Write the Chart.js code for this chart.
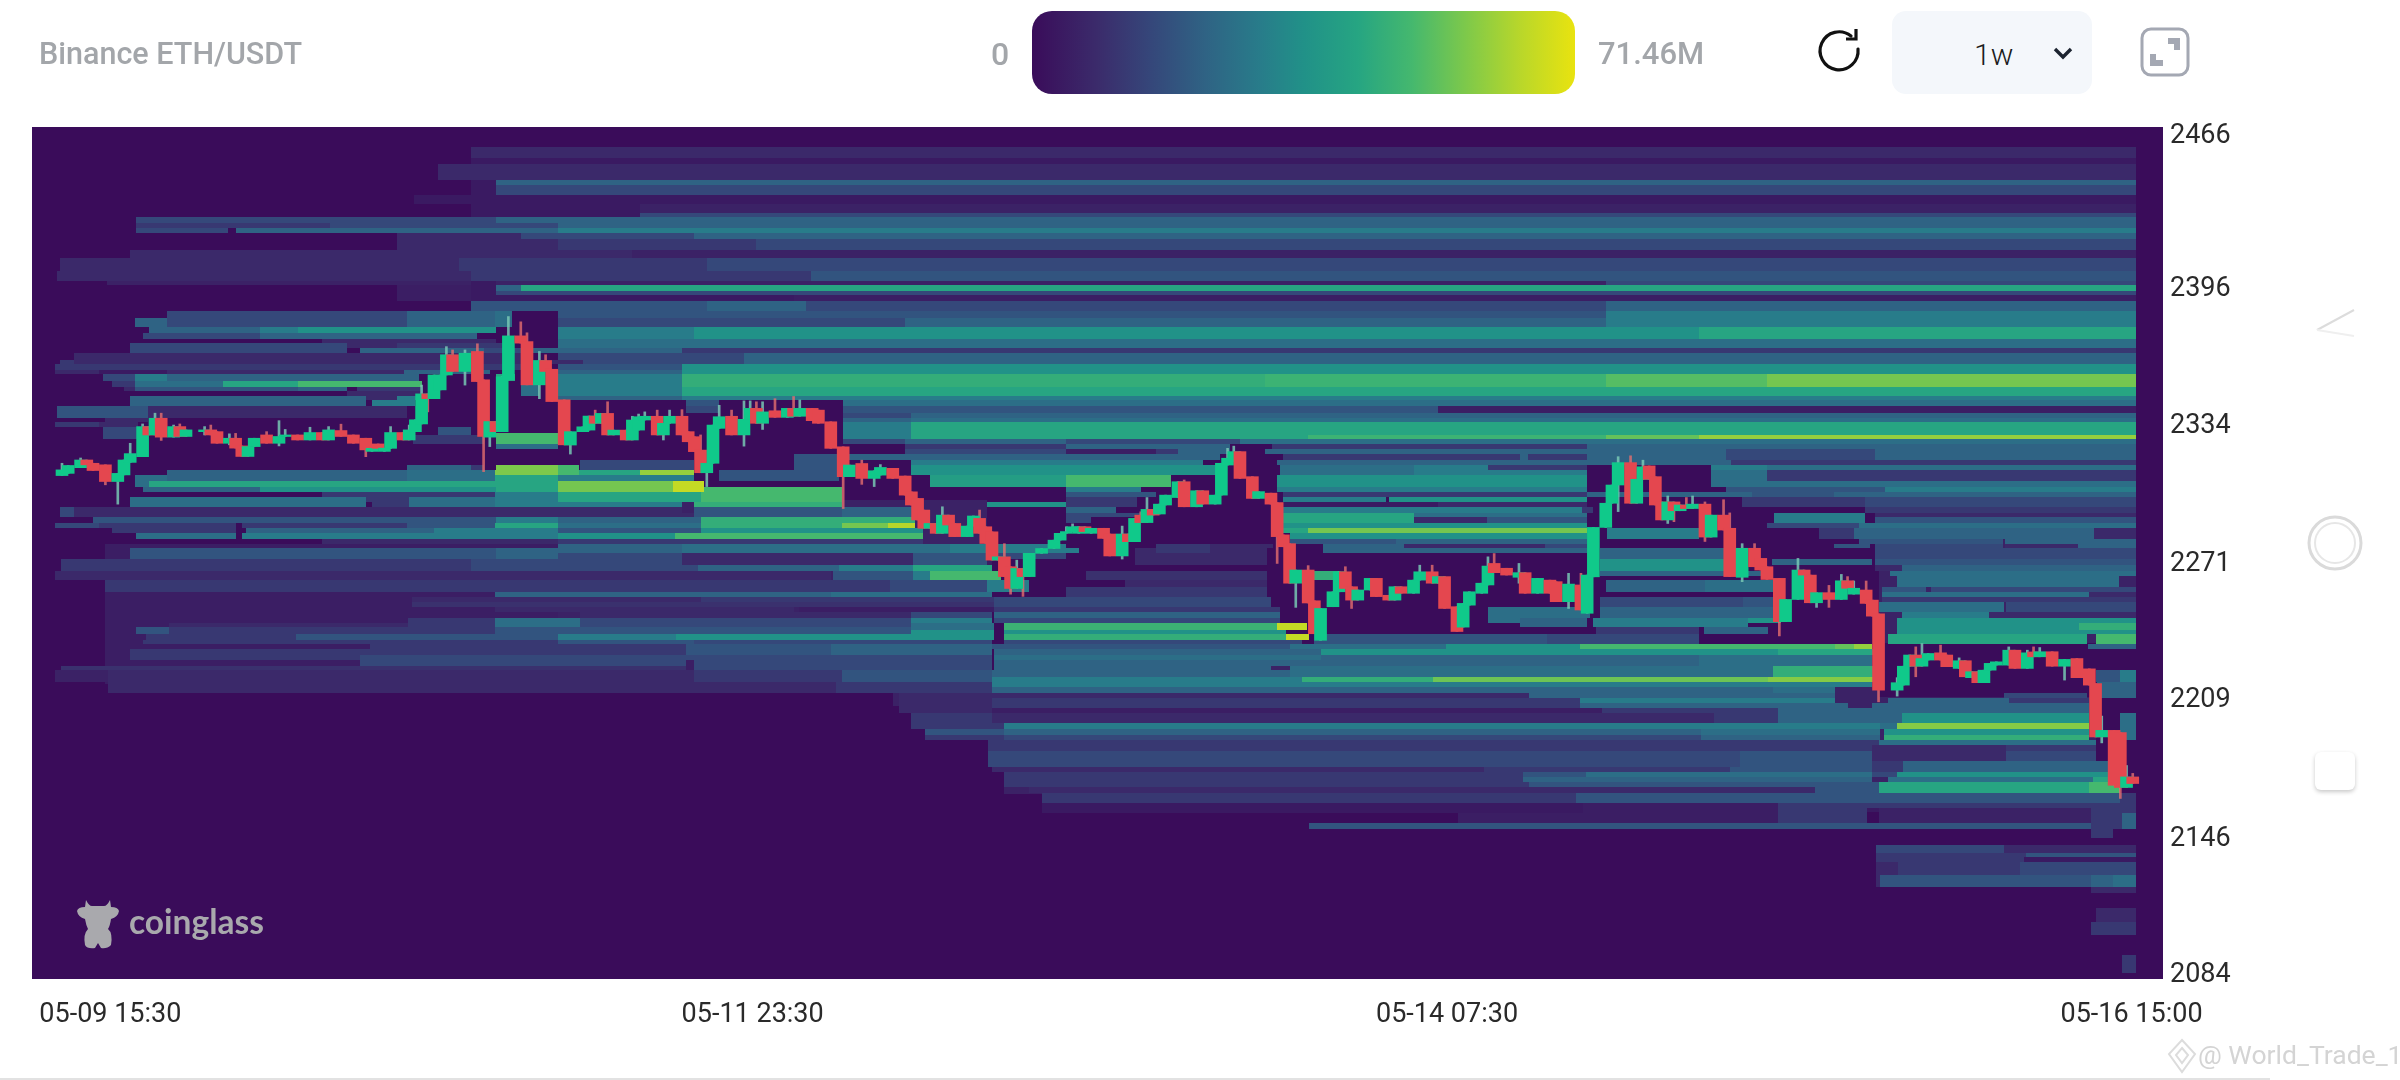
<!DOCTYPE html>
<html><head><meta charset="utf-8">
<style>
html,body{margin:0;padding:0;background:#fff;width:2400px;height:1080px;overflow:hidden;font-family:Roboto,sans-serif}
#wrap{position:relative;width:2400px;height:1080px}
canvas{position:absolute;left:0;top:0}
.t{position:absolute;white-space:nowrap;line-height:1}
svg{position:absolute;overflow:visible}
</style>
<script src="https://cdn.jsdelivr.net/npm/chart.js@4"></script>
</head><body><div id="wrap">
<canvas id="c" width="2400" height="1080"></canvas>
<div class="t" style="left:39px;top:39px;font-size:30.5px;font-weight:500;color:#a3a6aa">Binance ETH/USDT</div>
<div class="t" style="left:991px;top:38px;font-size:32px;font-weight:500;color:#a3a6aa">0</div>
<div id="bar" style="position:absolute;left:1032px;top:11px;width:543px;height:83px;border-radius:20px"></div>
<div class="t" style="left:1598px;top:38px;font-size:31px;font-weight:500;color:#a3a6aa">71.46M</div>
<svg style="left:1815px;top:28px" width="50" height="50" viewBox="0 0 50 50"><path d="M36 8 A19 19 0 1 0 43 21" fill="none" stroke="#111" stroke-width="3.2" stroke-linecap="round"/><path d="M35 1 V11 H25" transform="translate(6 0)" fill="none" stroke="#111" stroke-width="3.2"/></svg>
<div style="position:absolute;left:1892px;top:11px;width:200px;height:83px;border-radius:14px;background:#f4f7fb"></div>
<div class="t" style="left:1974px;top:40px;font-size:30px;font-weight:300;color:#1c1c1c">1w</div>
<svg style="left:2052px;top:46px" width="22" height="16" viewBox="0 0 22 16"><path d="M3 3 L11 11 L19 3" fill="none" stroke="#1c2430" stroke-width="3.4"/></svg>
<svg style="left:2140px;top:27px" width="52" height="52" viewBox="0 0 52 52"><rect x="2" y="2" width="46" height="46" rx="9" fill="#fff" stroke="#a4a8b3" stroke-width="3"/><path d="M28 11 H40 V23 H34 V17 H28Z M10 27 H16 V33 H23 V39 H10Z" fill="#a4a8b3"/></svg>
<svg style="left:77px;top:899px" width="42" height="50" viewBox="0 0 42 50"><path d="M9 1 Q12 7 15 7 H27 Q30 7 33 1 L34 8 Q41 8 42 12 Q41 18 34 20 Q33 27 31 30 Q36 34 34 46 Q30 50 24 49 L21 44 L18 49 Q10 50 8 46 Q6 35 11 30 Q9 26 8 20 Q1 18 0 12 Q1 8 8 8Z" fill="#a9a9ad"/></svg>
<div class="t" style="left:129px;top:905px;font-size:33.5px;font-weight:700;font-family:Lato,sans-serif;color:#a9a9ad">coinglass</div>
<svg style="left:2310px;top:300px" width="60" height="50"><path d="M7 30 L44 10" stroke="#dcdcdc" stroke-width="2" fill="none"/><path d="M7 30 L44 36" stroke="#efefef" stroke-width="2" fill="none"/></svg>
<svg style="left:2300px;top:510px" width="70" height="70"><circle cx="35" cy="33" r="26" fill="#fff" stroke="#dadada" stroke-width="3"/><circle cx="35" cy="33" r="20" fill="none" stroke="#e6e6e6" stroke-width="2"/></svg>
<div style="position:absolute;left:2315px;top:752px;width:40px;height:38px;border-radius:6px;background:#fff;box-shadow:0 2px 4px #c9c9c9"></div>
<svg style="left:2167px;top:1038px" width="30" height="36" viewBox="0 0 30 36"><path d="M15 2 L28 16 L15 34 L2 16Z M15 10 L21 17 L15 25 L9 17Z" fill="none" stroke="#dcdcdc" stroke-width="2"/></svg>
<div class="t" style="left:2198px;top:1042px;font-size:26.5px;color:#d4d4d4">@ World_Trade_1</div>
<div style="position:absolute;left:0;top:1078px;width:2270px;height:2px;background:#e2e2e2"></div>
</div>
<script>
const yTickValues=[2466,2396,2334,2271,2209,2146,2084];
const xTickHours=[3.9,55.7,111.7,166.9];
const xTickLabels=['05-09 15:30','05-11 23:30','05-14 07:30','05-16 15:00'];
const scaleMaxM=71.46;
const upColor='#10c98a', downColor='#e4474f';
// hour, open, close, [high], [low]  (null = no visible wick)
const candleRows=[
[0,2310,2312.6,2315.6],[.5,2311,2314.6],[1.5,2313.6,2317.1,2318],[2,2317.1,2314.9],[2.5,2315.6,2312.3],[3.5,2314.9,2307.3,null,2305.8],[4.5,2307.3,2311,null,2297],[5,2310.3,2317.1],[5.5,2316,2320,2324.7],[6.5,2318.6,2332.3,2333.5],[7,2332.3,2328.5],[7.5,2328.5,2336.1,2338.4],[8,2336.1,2327.5,2338.4,2326],[9,2327.5,2332.3,2333],[9.5,2332.3,2327.8,2333.5],[10,2327.8,2330.8],[11.5,2330,2330.8,2332.3,2328.5],[12,2330.8,2328.5,2333],[12.5,2330,2324.7],[13.5,2324.7,2327,2329,2324],[14,2327,2322.5,2329.2],[14.5,2323.5,2318.7],[15,2318.7,2323.2],[15.5,2323.2,2327],[16.5,2328.5,2324.7,2330],[17.5,2324.7,2327.8,2335,2323.5],[18,2327.8,2328.5,2331],[19,2328.5,2326.2],[20,2326.2,2329.6,2332],[21,2329.6,2326.2],[21.5,2326.2,2330.8,2332.3],[22.5,2330.5,2327.8,2333.4],[23.5,2328.5,2324.7],[24.5,2327,2321.7,null,2318.6],[25,2321,2322.4],[25.5,2324.4,2322.4],[26,2321,2322.5],[26.5,2322.4,2329.6,2332.3],[27.5,2329.6,2326.2],[28,2326.2,2330.8,2333],[28.5,2330,2335.4],[29,2333.5,2347.2,2351.2],[29.5,2347.2,2345,null,2339],[30,2345,2355.8],[30.5,2349,2355.8],[31,2355.8,2365,2368.7],[31.5,2365,2357.4,2367.2],[32.5,2357.4,2365.7,2367.2,2351.2],[33.5,2366.5,2352.8,2370],[34,2353.6,2327.8,null,2311.8],[34.5,2327.5,2334.6,null,2323.2],[35,2334.6,2330],[35.5,2330,2355],[36,2353.6,2373.6,2382.4],[37,2373.6,2370.3,2380],[37.5,2371,2351.3,2375],[38.5,2351.3,2362.4,2366.5,2345],[39,2362.4,2357.4,2365],[39.5,2358.4,2343.7],[40.5,2344.5,2324],
[41,2323.9,2330,null,2319.8],[42,2330,2332.2],[42.5,2330.7,2337.1],[43,2337.1,2333.8,2339.8],[43.5,2333.8,2338.3],[44,2338.3,2328.5,2343.6],[44.5,2328.5,2330.7],[45.5,2330.7,2326.2],[46,2326.2,2335.3,2337],[46.5,2330.7,2336.8,2338],[47,2335.3,2337,2339],[48,2337,2328.5,2339.8],[48.5,2328.5,2333.8,null,2326.2],[49,2333.8,2337,2339.8],[50,2337,2328.5,2340],[50.5,2330,2325.4],[51,2327.7,2320.9],[51.5,2321.6,2311.3,2328.5],[52,2311.3,2315.6,null,2305],[52.5,2315.6,2333],[53,2331.5,2336.8,2342],[54,2337,2328.5,2339.8],[55,2328.5,2335.6,2344,2323.4],[55.5,2335.6,2340.6,2344],[56,2340.6,2333.8,2343.6],[56.5,2333.8,2339,2343.6,2331],[57.5,2339.5,2336.5,2345],[58.5,2336.5,2340.6],[59,2340.6,2337,2346],[59.5,2337,2340.6,2344.4],[60.5,2340.6,2335],[61,2339.8,2333.8],[62,2334.5,2322.4],[63,2323.1,2309.5,null,2295],[63.5,2309.5,2314.8],[64.5,2315.5,2308.7,2317,2306],[65.5,2308.7,2312.2,null,2305],[66,2310.2,2313.7,2315],[67,2313.3,2308.7],[68,2309.8,2301.1],[68.5,2302.6,2296.6],[69,2299.6,2289.8],[69.5,2294.3,2286],[70,2286,2288.2],[70.5,2288.2,2283.7],[71,2283.7,2292,2295.8],[71.5,2292,2287.5],[72,2288.2,2282.2],[73,2282.2,2287],[73.5,2287,2291.6],[74,2290.5,2283.7,2294.3],[74.5,2286.7,2279.1],[75,2284.4,2271.5],[75.5,2271.5,2273],[76,2273,2264,2279],[76.5,2268.5,2258.6,null,2256],[77,2258.6,2267.7,2271.5],[77.5,2267.7,2264,null,2255],[78,2264,2274.6],[79,2274.6,2276.8],[80,2276.8,2280.6],[80.5,2280.6,2283.7],[81,2283.7,2284.5,2286.7],[81.5,2284.5,2286.7,2288],[82,2283.7,2286.7],
[82.5,2286.7,2284.5],[83,2283.7,2286],[84,2286,2281.4],[84.5,2283.4,2273.4],[85.5,2273.4,2283.4,2287,2272],[86,2283.4,2279.9],[86.5,2279.9,2290.5],[87,2292,2288.6,2293.5],[87.5,2288.6,2294.6,2300],[88,2294.6,2292],[88.5,2292.5,2297],[89,2296.6,2301.1],[90,2300,2307.2],[90.5,2307.2,2295.8,2308],[91.5,2295.8,2303.1],[92,2303.1,2297],[93,2297,2301.1],[93.5,2301.1,2315.6],[94,2314.8,2317.9,2322.4],[94.5,2316.3,2320.9,2323.4],[95,2320.9,2308.7],[96,2309.5,2299.6],[96.5,2299.6,2302.7],[97.5,2302,2297],[98,2297.7,2282.2,null,2270],[98.5,2283,2277.6],[99,2279,2261],[99.5,2261,2267,null,2250],[100.5,2267,2252,2269],[101,2253,2238],[101.5,2235,2249.5],[102.5,2250.3,2257.1],[103,2257.1,2266.2],[103.5,2266.2,2258.6,2268.5],[104,2259.4,2253.3,null,2249.5],[104.5,2253.3,2257.9],[105.5,2257.9,2263.2],[106,2263.2,2254.9],[107,2255.5,2253.3],[107.5,2253.3,2259.4],[108,2259.4,2256.4],[109,2256.4,2262.4],[109.5,2262.4,2266.2,2269.2],[110.5,2266.2,2261,2269.2],[111,2261,2264],[111.5,2264,2249.5],[112.5,2250.3,2239],[113,2241,2251.8],[113.5,2251,2257.1],[114.5,2256.4,2261],[115,2260.2,2268.8,2273],[115.5,2270,2265.8,2274.5],[116.5,2267.8,2264.7],[117.5,2263.7,2265.8,2270,2261],[118,2265.8,2256.4],[119,2256.4,2263.2],[120,2262.4,2256.4],[120.5,2261.7,2252.6],[121.5,2252.6,2260.6,2265.5,2249.5],[122.5,2260.2,2248.8,2265.5],[123,2247.3,2264.7],
[123.5,2263.9,2286.4],[124.5,2286.4,2297.4],[125,2297.4,2305.7],[125.5,2305.7,2315.9,2318.6,2293.6],[126.5,2315.9,2297.4,2319],[127,2297.4,2308.3],[127.5,2308.3,2314,2317],[128,2314.4,2308.3],[128.5,2309.5,2296.6],[129,2298,2289.8],[129.5,2289.8,2298,2300.7,2288.2],[130,2298,2294,null,2289],[130.5,2294,2296.6],[131,2296.6,2295,2300],[131.5,2295,2297,2300.7],[132.5,2297,2282,2298,2280],[133,2282,2292],[134,2292,2285.2,2299],[134.5,2286,2264,2293],[135.5,2263.7,2276.9,2279,2261.7],[136.5,2276.9,2268.5,2279],[137,2272.3,2267],[137.5,2268.5,2262.7],[138.5,2263.2,2243.5,null,2237],[139,2243.5,2253.6],[140,2253.6,2267,2272.3],[140.5,2267,2264.7],[141,2264.7,2252.1],[141.5,2252.1,2256.7,null,2250],[142.5,2256.7,2253.6,2260,2250],[143.5,2253.6,2262.1,2265],[144,2262.1,2258.7,2264],[144.5,2256,2258.7,2262],[145.5,2257.9,2251.8,2262],
[146,2253.3,2246],[146.5,2247,2212.3,null,2207],[148,2212.3,2215.7,2218,2209.6],[148.5,2214.6,2223.2],[149,2223.2,2228.3],[149.5,2228.3,2223.2,2232,2218.4],[150,2223.2,2226.7,2233.5],[150.5,2226,2229],[151.5,2229.3,2226,2232.8],[152,2228.3,2223],[153,2222.2,2225.7,2227],[153.5,2225.7,2218.4],[154,2218,2220.7],[154.5,2220.7,2215.7],[155,2215.7,2221.4],[155.5,2221.4,2224.5],[156,2223.7,2225.2],[157,2223.7,2230.5,2232],[157.5,2230.5,2222.2],[158.5,2222.2,2229.3,2230.5],[159,2229.7,2227.5,2232],[159.5,2227.5,2229.8,2231.7],[160.5,2229.8,2223.2],[161.5,2223.2,2226.3,null,2216.9],[162.5,2226.7,2218],[163.5,2222,2214.6],[164,2215.3,2191],[164.5,2191,2194,2200.5,2188.3],[165.5,2194,2169],[166,2193,2168,null,2163],[166.5,2168,2172.8,2178,2168],[167,2172.8,2169.8,2174.4]
];
// price high, price low, then triples of start hour, end hour, liquidity (millions)
const heatRows=[
[2459.6,2389.4,33,167.3,4],[2425,2389.4,27,33,5],[2279,2215,3.5,75,5],[2215,2205,67,75,6],[2299,2245,40,74.6,6],[2233,2165,76,146.5,6],[2165,2157,79,146.5,4],[2141.7,2122.6,146.3,167.3,8],[2324,2234,146.5,167.3,6],[2209,2150,146.5,164,6],
[2459.6,2454.5,33,167.3,8],[2451.8,2444.5,30.3,167.3,8],[2444.5,2442.3,35,167.3,23],[2442.3,2437.7,35,167.3,16],[2437.7,2433.6,28.4,167.3,4],[2433.6,2429.5,46.6,167.3,6],[2429.5,2427.7,46.6,167.3,16],
[2427.7,2425,6,35,16,35,167.3,23],[2425,2422.7,6,21.6,12,21.6,40,16,40,167.3,23],[2422.7,2420.4,6,13.4,16,14,40,23,40,167.3,30],[2420.4,2417.7,27,37,8,37,51,16,51,167.3,23],[2417.7,2412.6,27,40,8,40,56,12,56,167.3,16],[2412.6,2409,5.5,46,8,46,167.3,6],[2409,2403.1,-.2,32,8,32,52,12,52,167.3,16],[2403.1,2398.5,-.4,33,8,33,60.4,12,60.4,167.3,19],[2398.5,2396.7,3.6,33,6,35,124.5,6,124.5,167.3,16],[2396.7,2394,35,37,23,37,167.3,43],[2394,2392.2,35,167.3,16],[2392.2,2389.4,59,167.3,5],[2389.4,2384.9,33,52,19,52,60,23,60,124.5,16,124.5,167.3,23],
[2384.9,2381.7,8.5,27.8,16,27.8,34.9,23,34.9,36.3,26,40,124.5,19,124.5,167.3,30],[2381.7,2377.6,5.9,8.5,23,8.5,27.8,16,27.8,34.9,23,34.9,36.3,26,40,68,16,68,124.5,23,124.5,167.3,30],[2377.6,2374.9,7,16,23,16,19,30,19,35,36,40,51,30,51,132,36,132,167.3,43],[2374.9,2372.1,6.5,16,16,16,33.5,23,40,51,30,51,132,36,132,167.3,43],[2372.1,2370.3,21,35,8,40,167.3,26],[2370.3,2368,5.5,23,16,23,27,8,27,36,12,40,167.3,26],[2368,2365.7,5.5,23,16,24,34,23,34,37,16,38,50,23,50,167.3,12],[2365.7,2362.6,1,37,8,40,55,16,55,167.3,23],[2362.6,2360.7,-.2,1,12,1,42,8,42,55,16,55,167.3,23],[2360.7,2358,-.6,3,12,3,37,12,40,50,19,50,167.3,36],[2358,2356.2,-.6,3,8,3,8.5,4,8.5,27.6,8,27.6,34.5,23,40,50,23,50,167.3,36],
[2356.2,2353,3.3,5.9,16,5.9,8.5,30,8.5,28.8,23,35,36.5,43,40,50,30,50,97,46,97,124.5,48,124.5,137.5,52,137.5,167.3,56],[2353,2350.3,4,5.9,12,5.9,13,26,13,19,43,19,29,50,37,38.5,26,40,50,30,50,97,46,97,124.5,48,124.5,137.5,52,137.5,167.3,56],[2350.3,2348.4,5,5.9,8,5.9,19,19,19,23,23,23.8,29,12,37,38.5,26,40,50,30,50,167.3,43],[2348.4,2346.2,23,29,8,37,38.5,26,40,50,30,50,167.3,43],[2346.2,2344.3,5.5,24.5,23,24.5,27,8,27,29,30,40,50,23,50,167.3,30],[2344.3,2341.6,5.5,24.5,23,25,28.5,30,50.3,53,19,63,167.3,26],[2341.6,2338.4,-.4,6.9,19,6.9,27.8,8,50.3,53,16,63,111,19,111,167.3,5],[2338.4,2336.1,-.4,6.9,19,6.9,27.8,8,63,68.5,16,68.5,167.3,23],[2336.1,2334.3,3.5,6.9,8,63,68.5,23,68.5,167.3,26],[2334.3,2332,-.6,3,12,3,6.1,8,63,68.5,30,68.5,167.3,43],[2332,2328.5,3.3,6.1,16,30.3,33,19,63,68.5,30,68.5,167.3,43],[2329.3,2326.5,35,40,50],[2328.5,2326.5,3.3,6.1,16,28.3,34,12,63,68.5,30,68.5,100.5,43,100.5,124.5,48,124.5,132,54,132,167.3,60],[2326.5,2324.3,28.3,34,12,35,40,50,63,68,16,68,81,23,81,95,16,95,167.3,26],[2324.3,2322,35,40,26,68,81,12,81,94.2,23,97.6,123,12,123,167.3,23],[2322,2319.7,68,81,16,81,88.2,5,88.2,90,12,90,94.2,23,97,123,23,123,134.2,23,134.2,146.2,16,146.2,167.3,23],[2319.7,2317,59,63,19,63,81,23,81,93.4,23,98.5,117.6,12,117.6,118.2,23,118.2,123,12,123,134.2,23,134.2,146.2,16,146.2,167.3,23],[2317,2314.7,41.8,51,16,59,63,19,68.5,92,30,98,134.6,23,134.6,167.3,12],
[2314.7,2312.5,27.8,33,23,33,34,12,35,40,57,40,41.7,50,41.8,51,16,59,63,19,68.5,93.4,36,98.2,109,26,109,115,30,115,123,12,133,137.5,30,137.5,167.3,26],[2312.5,2310.2,8.5,27.8,23,27.8,34.9,26,34.9,40,57,40,41.7,50,41.7,46.6,43,46.6,51,60,53,62.7,19,68.5,93.4,36,98.2,109,26,109,123,30,133,137.5,26,137.5,167.3,12],[2310.2,2307.5,5.9,8.5,26,8.5,27.8,23,27.8,34.9,26,34.9,40,43,40,51,30,53,62.7,19,70,81,40,81,89.4,50,98,123,36,133,137.5,26,137.5,167.3,12],[2307.5,2304.7,5.9,7,26,7,40,43,40,49.3,56,49.3,51.8,66,70,81,40,81,89.4,50,98,123,36,133,167.3,26],[2304.7,2302.4,6.5,16,23,16,35,36,35,40,43,40,49.3,56,49.3,51.8,66,51.8,62.9,50,81,87,30,98,123,30,134.2,147,19,147,167.3,30],[2302.4,2300.2,21,34.9,12,34.9,40,30,40,51.5,43,51.5,62.9,50,81,88.2,19,98.5,123,12,123,136.3,23,136.3,142.9,19,142.9,167.3,23],[2300.2,2297.9,5.5,24.5,26,24.5,28,12,28,34.9,26,34.9,40,30,40,51.5,43,51.5,62.9,50,81,86.7,12,98.5,106.8,30,107,123,36,135.5,145.4,12,145.4,167.3,16],[2297.9,2295.6,5.5,24.5,26,25,28,12,28,34.9,26,34.9,40,30,40,50,30,51,62.9,46,74.6,85,36,81,86.7,12,98.2,111,4,111,123,8,135.5,145.4,12,145.4,167.3,16],[2295.6,2292.9,-.2,1,16,1,40,8,40,50,8,51,62.9,19,62.9,68.6,23,81,85,23,98.2,122.6,30,122.6,123.5,12,145.4,167.3,12],[2292.9,2291,-.2,1,16,1,40,8,40,51,8,51,62.9,19,62.9,68.6,23,81,88,16,98.2,109,43,109,123,26,138.1,145.4,30,146.2,167.3,8],[2291,2288.3,2.5,35,19,35,40,30,40,51.5,23,51.5,62.9,46,62.9,68.8,46,81,83,16,98.2,109,43,109,114.9,8,114.9,123,19,138.1,145.4,30,146.2,167.3,19],[2288.3,2286,-.6,3,16,3,14,12,14.5,27.8,12,27.8,34.9,19,34.9,40,43,40,51.5,26,51.5,62.9,46,62.9,66.6,56,66.6,68.8,64,98.2,123,36,137.5,144.9,16,144.9,167.3,26],[2286,2283.8,4,14,12,14.8,30,23,30,40,30,40,51.5,19,51.5,69.4,36,98.2,100.5,43,100.5,123,56,124.6,132,30,141.7,144.5,12,144.5,163.9,23,163.9,167.3,8],[2283.8,2281,6,14,26,14.5,40,30,40,49.4,36,49.4,69.4,50,99,123,36,124.6,132,30,141.7,144.5,12,144.5,163.9,23,163.9,167.3,8],
[2281,2278.8,21,40,8,40,69.4,12,99,107.6,19,107.6,123,23,144.9,156.5,19,156.7,167.3,23],[2278.8,2276.8,40,50,23,50,71.6,26,71.6,81,30,88.2,92.6,12,92.6,97.7,8,101.7,108.2,23,108.2,119.6,8,119.6,123,16,142.9,145.8,19,146.2,156.5,16,156.7,162.6,8,162.6,167.3,23],[2276.8,2274.7,5.5,35,19,35,40,23,40,50,23,50,71.6,26,71.6,82,30,86.5,88.2,8,88.2,92.6,12,92.6,97.2,8,101.7,123,23,124,134.5,23,146.2,167.3,16],[2274.7,2271.9,5.5,35,19,35,40,23,40,50,16,50,68.6,8,68.6,74.6,19,74.6,81,16,86.5,97.2,8,124,134.5,23,146.2,167.3,16],[2271.9,2269.2,-.1,33,12,33,50,16,50,68.6,8,68.6,74.6,19,86.5,97.2,8,124,136,36,137.9,146,23,146.2,167.3,19],[2269.2,2266.5,-.1,33,12,33,51.3,16,51.3,62.7,23,62.7,68.6,30,68.6,75,43,124,136,36,146.2,148.4,8,148.4,167.3,23],[2266.5,2264.2,-.6,62,8,62.2,68.6,19,68.6,70,30,70,75.7,50,82.6,97.2,10,100.8,103,46,124,138,23,147.4,167.3,26],[2264.2,2262.4,-.6,62,8,62.2,68.6,19,68.6,70,30,70,75.7,50,82.6,97.2,10,100.8,103,46,148,165.9,26],[2262.4,2259.2,3.5,34.9,12,34.9,66.8,12,66.8,74.6,16,74.6,78,30,85.7,97.2,8,124.5,132.5,23,132.5,138,26,148,165.9,26],[2259.2,2256.9,3.5,34.9,12,34.9,66.8,12,66.8,74.6,16,74.6,78,30,81,97.2,12,124.5,132.5,23,132.5,138,26,146.8,150.3,19,150.7,167.3,16],[2256.9,2254.6,34.9,62,23,62,75,26,81,97.2,12,146.8,163.5,26,163.5,167.3,8],[2254.6,2252.3,28.2,34.9,8,34.9,51.5,8,51.5,75.2,12,75.2,97.5,16,124,135.6,16,135.6,138.3,19,146.8,167.3,12],[2252.3,2250.1,28.2,75.2,10,75.2,97.5,16,124,135.6,16,135.6,138.3,19,146.5,156.6,26,156.8,167.3,16],[2250.1,2247.8,34.9,41.8,8,41.8,59,8,59.4,75.2,5,75.2,98.2,12,115,123.2,26,124,132.5,23,132.5,138.5,23,146.5,156.6,26,156.8,167.3,16],[2247.8,2245.1,41.8,68.5,8,68.5,75,16,75.2,98.2,23,115,123.2,26,124,132.5,23,132.5,138.5,23,148.4,155.4,30,155.4,167.3,8],[2245.1,2242.8,27.9,34.9,12,34.9,41.8,26,41.8,68.5,16,68.5,75,30,75.2,98.2,16,115,117.6,26,117.6,123,23,123.5,136,30,136,138.6,36,148,167.3,36],[2242.8,2241,8.6,27.9,8,27.9,34.9,12,34.9,41.8,26,41.8,68.5,16,68.5,75.2,26,76,98,48,98,100.4,66,117.6,123,23,123.5,136,30,148,162.7,36,162.7,167.3,46],[2241,2239.6,6,8.6,19,8.6,34.9,12,34.9,68.5,19,68.5,75.2,26,76,98,48,98,100.4,66,123.7,132,12,132.4,137.6,23,148,162.7,36,162.7,167.3,46],[2239.6,2237.8,6,8.6,19,8.6,34.9,12,34.9,68.5,19,68.5,75.2,36,76,98.7,36,123.7,132,12,132.4,137.6,23,148,167.3,36],[2237.8,2235,6.8,18.9,12,18.9,40,19,40,49.5,30,49.5,75.2,36,76,98.7,46,98.7,100.6,66,101,119.8,19,119.8,132,16,147.3,163.3,43,164,167.3,50],[2235,2233.2,6.5,40,12,40,51,19,51,75,16,76,100,16,101,119.8,19,119.8,132,16,147.3,163.3,43,164,167.3,50],
[2233.2,2230.9,24.8,50.3,12,50.3,62,19,62,75,23,75,99,19,99,111.6,26,111.6,122.4,36,122.4,143,50,143,144.5,54,144.5,146,60,163.4,167.3,23],[2230.9,2228.2,5.5,24.8,12,24.8,50.3,12,50.3,62,19,62,75,23,75.2,101.5,23,101.5,138.4,36,138.4,146.3,43],[2228.2,2226,5.5,24,12,24,50.3,16,50.3,75,16,75.2,101.5,26,101.5,132,23,132,146,26],[2226,2223.2,24,50.3,16,51,75,16,75.2,101.5,23,101.5,132,23,132,146,26],[2223.2,2221.4,-.1,50.3,10,51,75,16,75.2,97.5,23,99,138,26,138,146.3,46],[2221.4,2218.2,-.6,3.7,6,3.7,51,8,51,62.9,12,62.9,75,19,75,99,23,99,138,26,138,146.3,46,164,166,19,166,167.3,30],[2218.2,2215.9,-.6,3.7,6,3.7,51,8,51,62.9,12,62.9,75,19,75,100,30,100,110.6,46,110.6,137.6,55,137.6,146.3,58,164,166,19,166,167.3,30],[2215.9,2213.6,3.7,62.4,8,62.4,75,12,75,146,30,164.1,167.3,23],[2213.6,2210.9,3.7,62.4,8,62.4,75,12,75,138,23,138,143,26,164.1,167.3,23],[2210.9,2208.6,67.5,75,8,75,118.3,8,118.3,143,23,156.6,163.3,16,164.1,167.3,23],[2208.6,2206.4,67.5,75,8,75,122.4,12,122.4,143,30,147.3,157,23,157,163.5,12],[2206.4,2204.1,67.5,75,8,75,122.4,12,122.4,144,23,146,163.5,23],[2204.1,2201.8,67.5,75,8,75,124.2,5,124.2,138.4,12,138.4,146,23,146,163.5,23],[2201.8,2197.2,68.5,75,12,75,133.2,8,133.2,138.4,12,138.4,146.6,23,146.6,148.4,23,148.4,163.5,36,166,167.3,26],[2197.2,2194.5,68.5,76,12,76,146.6,30,146.6,148,26,148,163.5,58,166,167.3,26],[2194.5,2191.8,69.6,76,19,76,132.2,23,132.2,146.6,26,146.9,163.5,36,166,167.3,26],[2191.8,2189.5,69.6,76,12,76,132.2,16,132.2,146.6,23,146.9,163.5,46,166,167.3,26],[2189.5,2187.2,74.7,146.6,12,146.5,164,26],[2187.2,2184.5,74.7,146,12,146,156.8,8,156.8,164,12],[2184.5,2180,74.7,135.3,16,135.3,146,19,146,156.8,8,156.8,164,16],[2180,2177.2,74.7,135.3,16,135.3,146,19,146,148.5,12,148.5,165.7,23],[2177.2,2174.9,75,114.7,8,114.7,134.5,12,134.5,146,19,146,148.5,12,148.5,165.7,23],[2174.9,2172.7,76,117.8,12,117.8,122.9,19,122.9,146,26,146,148,16,148,165.7,36],[2172.7,2170.4,76,117.8,12,117.8,146,23,147.3,163.8,26,163.8,165.7,43],[2170.4,2168.1,76,118.3,12,118.3,146.5,19,146.5,163.5,43,163.5,166,50],[2168.1,2165.4,78,118.3,8,118.3,141.4,8,141.4,146.5,19,146.5,163.5,43,163.5,166,50],[2165.4,2160.8,79,122.1,12,122.1,146,19,146,166,19,166,167.3,12],[2160.8,2158.5,79,122.7,4,122.7,138.4,5,138.4,146,12,146,167.3,12],[2158.5,2156.3,79,122.7,4,122.7,138.4,5,138.4,145.6,12,163.6,167.3,12],[2156.3,2151.7,112.6,138.4,5,138.4,145.6,12,163.6,166.1,12,166.1,167.3,23],[2151.7,2149,100.6,163.6,19,163.6,166.1,12,166.1,167.3,23],[2149,2145,163.6,165.4,12],
[2141.7,2138,146.3,156.6,16,156.6,167.3,8],[2138,2136.2,146.3,158.4,12,158.4,167.3,19],[2136.2,2133.9,146.3,158.2,12,158.2,167.3,4],[2133.9,2128,148.1,157.9,12,157.9,167.3,16],[2128,2122.6,146.6,163.6,19,163.6,165.4,23,165.4,167.3,26],[2122.6,2119.8,163.6,167.3,8],[2113,2106.6,164,167.3,8],[2106.6,2100.7,163.6,167.3,12],[2091.6,2083.4,166.1,167.3,12]
];
const rampStops=[[0,'#3a0c5a'],[.12,'#3b2b6b'],[.22,'#35477a'],[.32,'#2f6384'],[.42,'#287c8a'],[.5,'#219188'],[.6,'#26a582'],[.7,'#45b86e'],[.8,'#7ec94a'],[.9,'#b9d72a'],[1,'#e9e30f']];
function hex(s){return [1,3,5].map(i=>parseInt(s.substr(i,2),16));}
function rampColor(v){
  const t=Math.max(0,Math.min(1,v/scaleMaxM));
  for(let i=1;i<rampStops.length;i++){
    if(t<=rampStops[i][0]){
      const [t0,a]=rampStops[i-1],[t1,b]=rampStops[i],k=(t-t0)/(t1-t0),A=hex(a),B=hex(b);
      return 'rgb('+A.map((c,j)=>Math.round(c+(B[j]-c)*k)).join(',')+')';
    }
  }
  return rampStops[rampStops.length-1][1];
}
document.getElementById('bar').style.background='linear-gradient(90deg,'+rampStops.map(s=>s[1]+' '+s[0]*100+'%').join(',')+')';
const heatPlugin={id:'heat',beforeDatasetsDraw(c){
  const {ctx,chartArea:a,scales:{x,y}}=c;
  ctx.save();ctx.beginPath();ctx.rect(a.left,a.top,a.width,a.height);ctx.clip();
  ctx.fillStyle=rampColor(0);ctx.fillRect(a.left,a.top,a.width,a.height);
  for(const r of heatRows){
    const top=Math.round(y.getPixelForValue(r[0])),bot=Math.round(y.getPixelForValue(r[1]));
    for(let i=2;i+2<r.length;i+=3){
      const l=Math.round(x.getPixelForValue(r[i])),rr=Math.round(x.getPixelForValue(r[i+1]));
      ctx.fillStyle=rampColor(r[i+2]);ctx.fillRect(l,top,rr-l,bot-top);
    }
  }
  ctx.restore();
}};
const fill=(o,c)=>c>=o?upColor:downColor;
const wicks=candleRows.map(r=>{const o=r[1],c=r[2],hi=r[3]==null?Math.max(o,c):r[3],lo=r[4]==null?Math.min(o,c):r[4];return {x:r[0],y:[lo,hi]};});
const wickColors=candleRows.map(r=>r[2]>=r[1]?'rgba(120,200,180,.85)':'rgba(230,110,110,.8)');
const bodies=candleRows.map(r=>({x:r[0],y:[Math.min(r[1],r[2]),Math.max(r[1],r[2])]}));
const bodyColors=candleRows.map(r=>fill(r[1],r[2]));
const tickFont={family:'Roboto',size:27,weight:'400'};
new Chart(document.getElementById('c'),{
  type:'bar',
  data:{datasets:[
    {label:'Body',data:bodies,backgroundColor:bodyColors,barThickness:12,order:1,grouped:false},
    {label:'Wick',data:wicks,backgroundColor:wickColors,barThickness:2,order:2,grouped:false}
  ]},
  options:{responsive:false,animation:false,devicePixelRatio:1,
    layout:{padding:{left:32,top:127,right:0,bottom:0}},
    plugins:{legend:{display:false},tooltip:{enabled:false}},
    scales:{
      x:{type:'linear',min:-2.42,max:169.44,offset:false,grid:{display:false,drawTicks:false},border:{display:false},
        afterBuildTicks:s=>{s.ticks=xTickHours.map(v=>({value:v}));},
        afterFit:s=>{s.height=101;},
        ticks:{autoSkip:false,maxRotation:0,padding:20,color:'#2a2a2a',font:tickFont,callback:(v,i)=>xTickLabels[i]}},
      y:{type:'linear',position:'right',min:2080.8,max:2468.7,grid:{display:false,drawTicks:false},border:{display:false},
        afterBuildTicks:s=>{s.ticks=yTickValues.map(v=>({value:v}));},
        afterFit:s=>{s.width=237;},
        ticks:{autoSkip:false,padding:7,labelOffset:3,color:'#2a2a2a',font:tickFont,callback:v=>String(v)}}
    }
  },
  plugins:[heatPlugin]
});
</script></body></html>
